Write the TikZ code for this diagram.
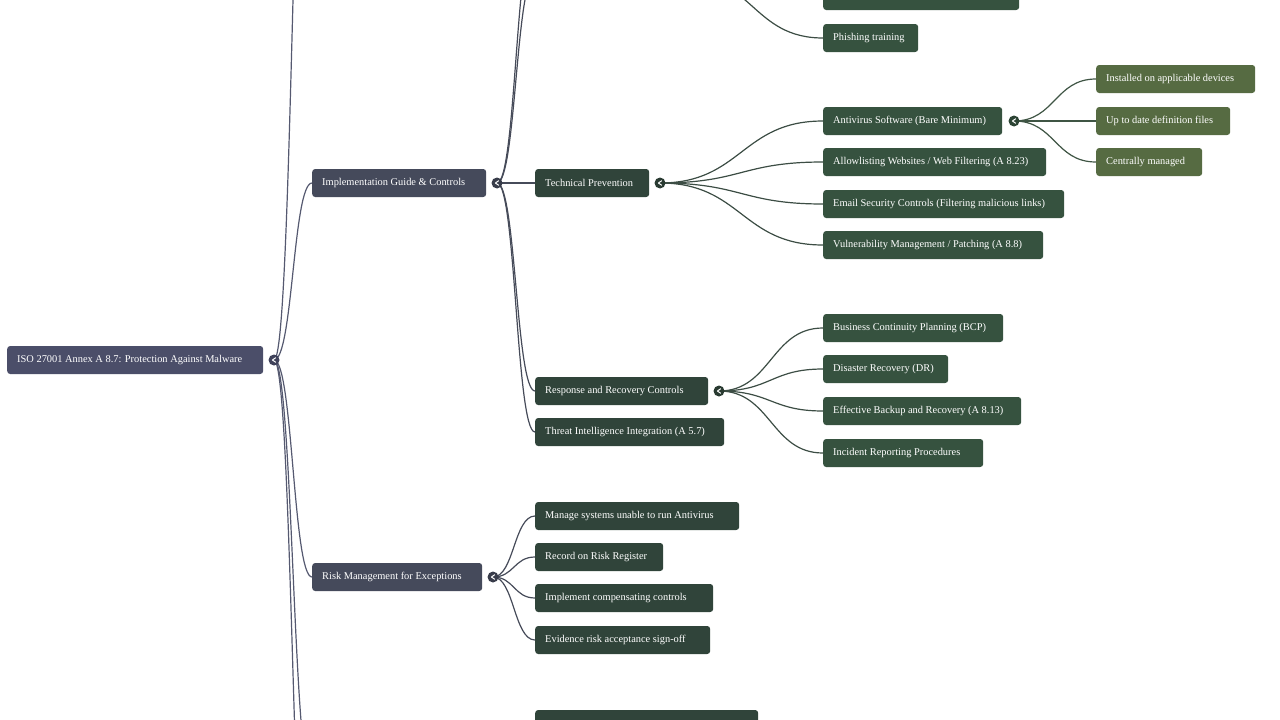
\documentclass[tikz,border=0pt]{standalone}
\usepackage{fontspec}
\setmainfont{Liberation Serif}
\usetikzlibrary{calc}
\pgfdeclarelayer{bg}
\pgfsetlayers{bg,main}
\definecolor{c0}{HTML}{4B4E69}
\definecolor{c1}{HTML}{454A5B}
\definecolor{c2}{HTML}{30443A}
\definecolor{c3}{HTML}{36523F}
\definecolor{c4}{HTML}{566B42}
\definecolor{t0}{HTML}{3F425A}
\definecolor{t1}{HTML}{383C4A}
\definecolor{t2}{HTML}{293A31}
\definecolor{t3}{HTML}{2C4434}
\definecolor{l0}{HTML}{555970}
\definecolor{l1}{HTML}{464B59}
\definecolor{l2}{HTML}{3C4D44}
\definecolor{l3}{HTML}{3F5544}
\tikzset{
  box/.style={rectangle, rounded corners=3pt, minimum height=28pt, inner xsep=10pt,
    inner ysep=0pt, anchor=west, text=white, font=\fontsize{10.4}{12}\selectfont},
  lv0/.style={box, fill=c0},
  lv1/.style={box, fill=c1},
  lv2/.style={box, fill=c2},
  lv3/.style={box, fill=c3},
  lv4/.style={box, fill=c4},
  tog/.style={circle, minimum size=11pt, inner sep=0pt,
    path picture={\draw[white, line width=1pt, line cap=round, line join=round]
      ([xshift=1.6pt,yshift=2.2pt]path picture bounding box.center) --
      ([xshift=-1.6pt]path picture bounding box.center) --
      ([xshift=1.6pt,yshift=-2.2pt]path picture bounding box.center);}},
  link/.style={line width=1.2pt, to path={let \p1=(\tikztostart), \p2=(\tikztotarget),
    \n1={(\x2-\x1)/2} in .. controls +(\n1,0) and +(-\n1,0) .. (\tikztotarget)}}
}
\newcommand\tx[2]{\makebox[#1pt][l]{#2}}
\begin{document}
\begin{tikzpicture}[x=1pt,y=-1pt]
\useasboundingbox (0,0) rectangle (1280,720);
% root
\node[lv0] (root) at (7,360) {\tx{236}{ISO 27001 Annex A 8.7: Protection Against Malware}};
\node[tog, fill=t0] (roott) at (274,360) {};
% level 1
\node[lv1] (impl) at (312,183) {\tx{154}{Implementation Guide \& Controls}};
\node[tog, fill=t1] (implt) at (497,183) {};
\node[lv1] (risk) at (312,577) {\tx{150}{Risk Management for Exceptions}};
\node[tog, fill=t1] (riskt) at (493,577) {};
\coordinate (up1) at (312,-360);
\coordinate (dn1) at (312,783);
\coordinate (dn2) at (312,986);
% level 2 (implementation)
\coordinate (upa) at (535,-25);
\coordinate (upb) at (535,-67);
\coordinate (upat) at (682,-25);
\node[lv2] (tech) at (535,183) {\tx{94}{Technical Prevention}};
\node[tog, fill=t2] (techt) at (660,183) {};
\node[lv2] (resp) at (535,391) {\tx{153}{Response and Recovery Controls}};
\node[tog, fill=t2] (respt) at (719,391) {};
\node[lv2] (threat) at (535,432) {\tx{169}{Threat Intelligence Integration (A 5.7)}};
% level 2 (risk)
\node[lv2] (manage) at (535,516) {\tx{184}{Manage systems unable to run Antivirus}};
\node[lv2] (record) at (535,557) {\tx{108}{Record on Risk Register}};
\node[lv2] (comp) at (535,598) {\tx{158}{Implement compensating controls}};
\node[lv2] (evid) at (535,640) {\tx{155}{Evidence risk acceptance sign-off}};
\node[lv2] (lowbox) at (535,724) {\tx{203}{}};
% level 3 top (off page parent)
\node[lv3] (topbox) at (823,-4) {\tx{176}{}};
\node[lv3] (phish) at (823,38) {\tx{75}{Phishing training}};
% level 3 technical
\node[lv3] (av) at (823,121) {\tx{159}{Antivirus Software (Bare Minimum)}};
\node[tog, fill=t3] (avt) at (1014,121) {};
\node[lv3] (allow) at (823,162) {\tx{203}{Allowlisting Websites / Web Filtering (A 8.23)}};
\node[lv3] (email) at (823,204) {\tx{221}{Email Security Controls (Filtering malicious links)}};
\node[lv3] (vuln) at (823,245) {\tx{200}{Vulnerability Management / Patching (A 8.8)}};
% level 4
\node[lv4] (inst) at (1096,79) {\tx{139}{Installed on applicable devices}};
\node[lv4] (upto) at (1096,121) {\tx{114}{Up to date definition files}};
\node[lv4] (central) at (1096,162) {\tx{86}{Centrally managed}};
% level 3 response
\node[lv3] (bcp) at (823,328) {\tx{160}{Business Continuity Planning (BCP)}};
\node[lv3] (dr) at (823,369) {\tx{105}{Disaster Recovery (DR)}};
\node[lv3] (backup) at (823,411) {\tx{178}{Effective Backup and Recovery (A 8.13)}};
\node[lv3] (incid) at (823,453) {\tx{140}{Incident Reporting Procedures}};
\begin{pgfonlayer}{bg}
\draw[link, draw=l0] (roott.center) to (up1);
\draw[link, draw=l0] (roott.center) to (impl.west);
\draw[link, draw=l0] (roott.center) to (risk.west);
\draw[link, draw=l0] (roott.center) to (dn1);
\draw[link, draw=l0] (roott.center) to (dn2);
\draw[link, draw=l1] (implt.center) to (upa);
\draw[link, draw=l1] (implt.center) to (upb);
\draw[link, draw=l1] (implt.center) to (tech.west);
\draw[link, draw=l1] (implt.center) to (resp.west);
\draw[link, draw=l1] (implt.center) to (threat.west);
\draw[link, draw=l1] (riskt.center) to (manage.west);
\draw[link, draw=l1] (riskt.center) to (record.west);
\draw[link, draw=l1] (riskt.center) to (comp.west);
\draw[link, draw=l1] (riskt.center) to (evid.west);
\draw[link, draw=l2] (upat) to (topbox.west);
\draw[link, draw=l2] (upat) to (phish.west);
\draw[link, draw=l2] (techt.center) to (av.west);
\draw[link, draw=l2] (techt.center) to (allow.west);
\draw[link, draw=l2] (techt.center) to (email.west);
\draw[link, draw=l2] (techt.center) to (vuln.west);
\draw[link, draw=l2] (respt.center) to (bcp.west);
\draw[link, draw=l2] (respt.center) to (dr.west);
\draw[link, draw=l2] (respt.center) to (backup.west);
\draw[link, draw=l2] (respt.center) to (incid.west);
\draw[link, draw=l3] (avt.center) to (inst.west);
\draw[link, draw=l3] (avt.center) to (upto.west);
\draw[link, draw=l3] (avt.center) to (central.west);
\end{pgfonlayer}
\end{tikzpicture}
\end{document}
